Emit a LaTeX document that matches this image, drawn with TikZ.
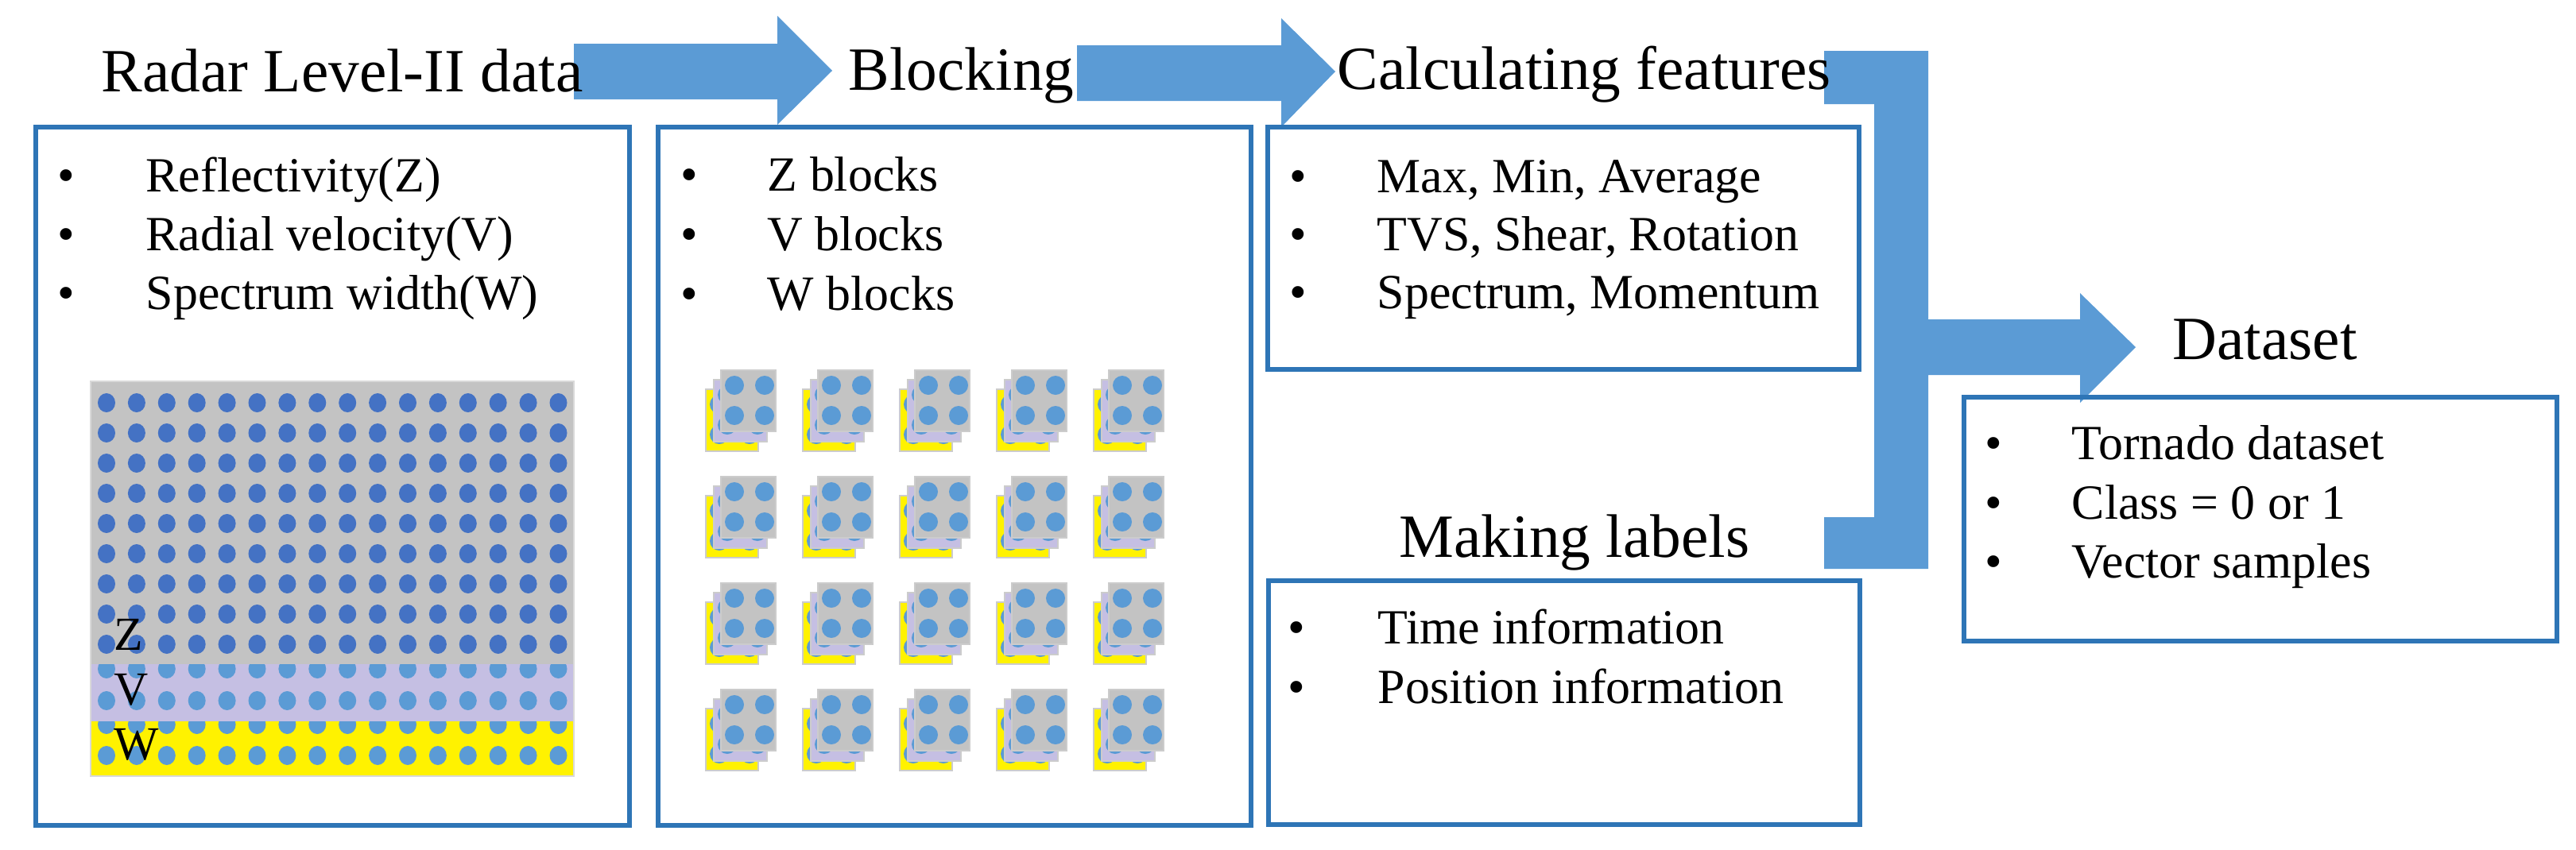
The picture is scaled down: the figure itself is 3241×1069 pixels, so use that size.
\documentclass[tikz,border=0pt]{standalone}
\usepackage{fontspec}
\setmainfont{Liberation Serif}
\definecolor{bline}{HTML}{2E75B6}
\definecolor{barrow}{HTML}{5B9BD5}
\definecolor{dkdot}{HTML}{4472C4}
\definecolor{ltdot}{HTML}{5B9BD5}
\definecolor{zgray}{HTML}{C3C3C3}
\definecolor{vlil}{HTML}{C5BFE3}
\definecolor{wyel}{HTML}{FFF200}
\begin{document}
\begin{tikzpicture}[x=0.01cm,y=-0.01cm,
  box/.style={draw=bline,line width=1.7pt},
  flow/.style={fill=barrow,draw=none},
  ttl/.style={anchor=base west,inner sep=0pt,font=\fontsize{22}{26}\selectfont},
  itm/.style={anchor=base west,inner sep=0pt,font=\fontsize{17.6}{21}\selectfont},
  bul/.style={anchor=base,inner sep=0pt,font=\fontsize{17.6}{21}\selectfont},
  lyr/.style={inner sep=0pt,font=\fontsize{17}{20}\selectfont,anchor=base west},
  tile/.style={draw=black!20,line width=0.4pt}]
\useasboundingbox (0,0) rectangle (3241,1069);
% flow arrows
\fill[flow] (722,55) -- (978,55) -- (978,20) -- (1047,89) -- (978,157) -- (978,125) -- (722,125) -- cycle;
\fill[flow] (1355,57) -- (1612,57) -- (1612,23) -- (1680,90) -- (1612,160) -- (1612,127) -- (1355,127) -- cycle;
\fill[flow] (2295,64) -- (2426,64) -- (2426,402) -- (2617,402) -- (2617,369) -- (2687,437) -- (2617,507) -- (2617,472) -- (2426,472) -- (2426,716) -- (2295,716) -- (2295,651) -- (2358,651) -- (2358,131) -- (2295,131) -- cycle;
% boxes
\draw[box] (45,160) rectangle (792,1039);
\draw[box] (828,160) rectangle (1574,1039);
\draw[box] (1595,160) rectangle (2339,465);
\draw[box] (1596,731) rectangle (2340,1038);
\draw[box] (2471,500) rectangle (3217,807);
% titles
\node[ttl] (t1) at (127,115) {Radar Level-II data};
\node[ttl] (t2) at (1067,113) {Blocking};
\node[ttl] (t3) at (1682,112) {Calculating features};
\node[ttl] (t4) at (1760,701) {Making labels};
\node[ttl] (t5) at (2733,452) {Dataset};
% items box1
\node[bul] (b11) at (83,241) {•}; \node[itm] (i11) at (183,241) {Reflectivity(Z)};
\node[bul] (b12) at (83,315) {•}; \node[itm] (i12) at (183,315) {Radial velocity(V)};
\node[bul] (b13) at (83,389) {•}; \node[itm] (i13) at (183,389) {Spectrum width(W)};
% items box2
\node[bul] (b21) at (867,240) {•}; \node[itm] (i21) at (965,240) {Z blocks};
\node[bul] (b22) at (867,315) {•}; \node[itm] (i22) at (965,315) {V blocks};
\node[bul] (b23) at (867,390) {•}; \node[itm] (i23) at (965,390) {W blocks};
% items box3
\node[bul] (b31) at (1633,242) {•}; \node[itm] (i31) at (1732,242) {Max, Min, Average};
\node[bul] (b32) at (1633,315) {•}; \node[itm] (i32) at (1732,315) {TVS, Shear, Rotation};
\node[bul] (b33) at (1633,388) {•}; \node[itm] (i33) at (1732,388) {Spectrum, Momentum};
% items box4
\node[bul] (b41) at (1631,810) {•}; \node[itm] (i41) at (1733,810) {Time information};
\node[bul] (b42) at (1631,885) {•}; \node[itm] (i42) at (1733,885) {Position information};
% items box5
\node[bul] (b51) at (2508,578) {•}; \node[itm] (i51) at (2606,578) {Tornado dataset};
\node[bul] (b52) at (2508,653) {•}; \node[itm] (i52) at (2606,653) {Class = 0 or 1};
\node[bul] (b53) at (2508,727) {•}; \node[itm] (i53) at (2606,727) {Vector samples};
% radar grid
\fill[zgray] (114,480) rectangle (722,836);
\fill[vlil] (114,836) rectangle (722,908);
\fill[wyel] (114,908) rectangle (722,977);
\begin{scope}
\clip (114,480) rectangle (722,836);
\foreach \r in {0,...,8} \foreach \c in {0,...,15}
  \fill[dkdot] (134+37.9*\c,507+38*\r) ellipse [x radius=11,y radius=12];
\end{scope}
\begin{scope}
\clip (114,836) rectangle (722,908);
\foreach \yy in {842,882} \foreach \c in {0,...,15}
  \fill[ltdot] (134+37.9*\c,\yy) ellipse [x radius=11,y radius=12];
\end{scope}
\begin{scope}
\clip (114,908) rectangle (722,977);
\foreach \yy in {912,951} \foreach \c in {0,...,15}
  \fill[ltdot] (134+37.9*\c,\yy) ellipse [x radius=11,y radius=12];
\end{scope}
\draw[black!15,line width=0.4pt] (114,480) rectangle (722,977);
\node[lyr] (lz) at (143,818) {Z};
\node[lyr] (lv) at (143,887) {V};
\node[lyr] (lw) at (143,956) {W};
% blocks
\foreach \i in {0,...,4} \foreach \j in {0,...,3} {
  \pgfmathsetmacro{\xo}{888+122*\i}
  \pgfmathsetmacro{\yo}{466+134*\j}
  \begin{scope}[shift={(\xo,\yo)}]
    \filldraw[tile,fill=wyel] (0,24) rectangle (66,102);
    \foreach \dx/\dy in {17/43,55/43,17/81,55/81} \fill[ltdot] (\dx,\dy) circle (12);
    \filldraw[tile,fill=vlil] (10,12) rectangle (77,90);
    \foreach \dx/\dy in {27/31,65/31,27/69,65/69} \fill[ltdot] (\dx,\dy) circle (12);
    \filldraw[tile,fill=zgray] (19,0) rectangle (88,77);
    \foreach \dx/\dy in {36/19,74/19,36/57,74/57} \fill[ltdot] (\dx,\dy) circle (12);
  \end{scope}
}
\end{tikzpicture}
\end{document}
